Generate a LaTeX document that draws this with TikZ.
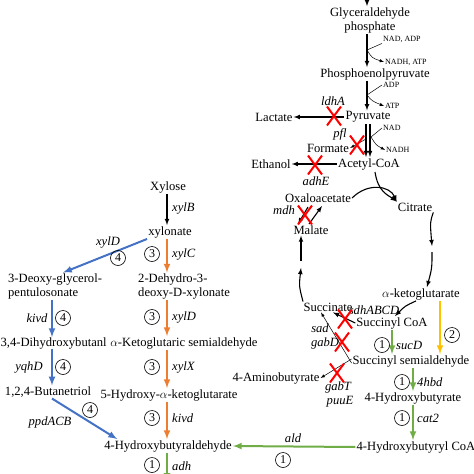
\documentclass[tikz,border=0pt]{standalone}
\usepackage{fontspec}
\setmainfont{Liberation Serif}
\usepackage{tikz}
\usepackage{xcolor}
\usetikzlibrary{arrows, shapes.misc}

\definecolor{pathorange}{RGB}{237,125,49}
\definecolor{pathblue}{RGB}{68,114,196}
\definecolor{pathgreen}{RGB}{112,173,71}
\definecolor{pathyellow}{RGB}{255,192,0}

\tikzset{
  met/.style={inner sep=1pt, font=\fontsize{12.6}{14}\selectfont},
  gene/.style={inner sep=1pt, font=\fontsize{12.6}{14}\selectfont\itshape},
  cof/.style={inner sep=1pt, font=\fontsize{8}{9}\selectfont},
  num/.style={circle, draw, line width=0.6pt, inner sep=0pt, minimum size=15pt, font=\fontsize{12}{12}\selectfont},
  knock/.style={cross out, draw=red, line width=2pt, minimum width=12pt, minimum height=17pt, inner sep=0pt},
  flux/.style={-latex, line width=1.1pt},
  thinflux/.style={-latex, line width=0.5pt},
  route/.style={-latex, line width=2pt}
}

\begin{document}
\begin{tikzpicture}[x=1pt, y=-1pt]
\useasboundingbox (0,0) rectangle (474,474);

% glycolysis
\coordinate (top) at (367,-2);
\node[met, align=center] (gap) at (370,20) {Glyceraldehyde\\phosphate};
\node[met] (pep) at (375,74) {Phosphoenolpyruvate};
\node[met] (pyr) at (368,117) {Pyruvate};
\node[met] (lac) at (274,117) {Lactate};
\node[met] (formate) at (328,148) {Formate};
\node[met] (acoa) at (369,164) {Acetyl-CoA};
\node[met] (etoh) at (271,164) {Ethanol};

\draw[flux] (top) -- (top |- gap.north);
\draw[flux] (gap.south -| top) -- (pep.north -| top);
\draw[flux] (pep.south -| top) -- (pyr.north -| top);

\node[cof, anchor=west] (nadadp) at (382,39) {NAD, ADP};
\node[cof, anchor=west] (nadhatp) at (384,62) {NADH, ATP};
\coordinate (b1) at (367,50);
\draw[line width=0.5pt] (b1) -- (nadadp.south west);
\draw[thinflux] (b1) .. controls (372,58) .. (nadhatp.west);

\node[cof, anchor=west] (adp) at (382,85) {ADP};
\node[cof, anchor=west] (atp) at (384,106) {ATP};
\coordinate (b2) at (367,95);
\draw[line width=0.5pt] (b2) -- (adp.west);
\draw[thinflux] (b2) .. controls (372,101) .. (atp.west);

% pyruvate node
\draw[flux] (pyr.west) -- (lac.east);
\node[knock] (x1) at (334,116) {};
\node[gene] (ldhA) at (333,101) {ldhA};

\draw[flux] (366,124) -- (366,157);
\draw[flux] (370,124) -- (370,157);
\node[cof, anchor=west] (nad) at (382,128) {NAD};
\node[cof, anchor=west] (nadh) at (385,150) {NADH};
\coordinate (b3) at (371,137);
\draw[line width=0.5pt] (b3) -- (nad.west);
\draw[thinflux] (b3) .. controls (376,145) .. (nadh.west);

\coordinate (b4) at (366,139);
\draw[thinflux] (b4) -- (formate.east);
\node[knock] (x2) at (357,145) {};
\node[gene] (pfl) at (340,134) {pfl};

\draw[flux] (acoa.west) -- (etoh.east);
\node[knock] (x3) at (315,165) {};
\node[gene] (adhE) at (316,181) {adhE};

% TCA cycle
\node[met] (oaa) at (318,198) {Oxaloacetate};
\node[met] (mal) at (311,230) {Malate};
\node[met] (cit) at (415,207) {Citrate};
\node[met] (akg) at (421,294) {$\alpha$-ketoglutarate};
\node[met] (succ) at (328,307) {Succinate};
\node[met] (scoa) at (392,323) {Succinyl CoA};
\node[gene] (sdh) at (374,310) {sdhABCD};

\draw[flux] (375,172) .. controls (378,192) and (388,195) .. (cit.north west);
\draw[flux] (oaa.east) .. controls (368,182) and (390,186) .. (cit.north west);
\coordinate (c1) at (432,246);
\coordinate (c2) at (432,252);
\draw[flux] (cit.south east) .. controls (430,222) .. (c1);
\draw[flux] (c2) .. controls (432,268) .. ([xshift=6pt]akg.north);
\draw[flux] ([xshift=-5pt]akg.south) .. controls (405,306) .. ([xshift=3pt]scoa.north);
\draw[flux] (scoa.west) -- ([xshift=5pt]succ.south);
\node[knock] (x4) at (345,319) {};
\coordinate (c3) at (301,268);
\coordinate (c4) at (301,261);
\draw[flux] ([xshift=-25pt]succ.north) .. controls (299,286) .. (c3);
\draw[flux] (c4) -- (mal.south -| c4);

\draw[flux] (308,207) -- (298,224);
\draw[flux] (309,224) -- (322,206);
\node[knock] (x5) at (305,215) {};
\node[gene] (mdh) at (284,210) {mdh};

% side branches of succinyl semialdehyde
\node[met] (ssa) at (411,361) {Succinyl semialdehyde};
\node[met] (gaba) at (276,378) {4-Aminobutyrate};
\draw[thinflux] ([yshift=-2pt]ssa.west) -- ([xshift=-7pt]succ.south);
\node[knock] (x6) at (342,342) {};
\node[gene] (sad) at (320,328) {sad};
\node[gene] (gabD) at (325,343) {gabD};
\draw[thinflux] ([yshift=2pt]ssa.west) -- (gaba.east);
\node[knock] (x7) at (337,373) {};
\node[gene] (gabT) at (338,387) {gabT};
\node[gene] (puuE) at (340,402) {puuE};

% route 1 and 2
\node[met] (hb) at (413,398) {4-Hydroxybutyrate};
\node[met] (hbcoa) at (416,447) {4-Hydroxybutyryl CoA};
\node[met] (hbald) at (168,446) {4-Hydroxybutyraldehyde};

\draw[route, pathgreen] (scoa.south) -- (scoa.south |- ssa.north);
\node[num] (n1a) at (382,345) {1};
\node[gene, anchor=west] (sucD) at (395,345) {sucD};
\draw[route, pathyellow] ([xshift=19pt]akg.south) -- ([xshift=19pt]akg.south |- ssa.north);
\node[num] (n2) at (452,335) {2};
\draw[route, pathgreen] (ssa.south -| hb) -- (hb.north);
\node[num] (n1b) at (402,382) {1};
\node[gene, anchor=west] (hbd) at (416,382) {4hbd};
\draw[route, pathgreen] (hb.south) -- (hb.south |- hbcoa.north);
\node[num] (n1c) at (402,418) {1};
\node[gene, anchor=west] (cat2) at (416,418) {cat2};
\draw[route, pathgreen] (hbcoa.west) -- (hbald.east);
\node[gene] (ald) at (293,438) {ald};
\node[num] (n1d) at (283,460) {1};
\coordinate (bottom) at (167,482);
\draw[route, pathgreen] (hbald.south -| bottom) -- (bottom);
\node[num] (n1e) at (152,465) {1};
\node[gene, anchor=west] (adh) at (171,466) {adh};

% route 3
\coordinate (spine) at (167,0);
\node[met] (xylose) at (168,187) {Xylose};
\node[met] (xylonate) at (170,232) {xylonate};
\node[met, align=left, anchor=west] (ddx) at (137,286.5) {2-Dehydro-3-\\deoxy-D-xylonate};
\node[met] (aks) at (184,343) {$\alpha$-Ketoglutaric semialdehyde};
\node[met] (hakg) at (169,395) {5-Hydroxy-$\alpha$-ketoglutarate};

\draw[flux] (xylose.south -| spine) -- (xylonate.north -| spine);
\node[gene, anchor=west] (xylB) at (171,208) {xylB};
\draw[route, pathorange] (xylonate.south -| spine) -- (ddx.north -| spine);
\node[num] (n3a) at (152,254) {3};
\node[gene, anchor=west] (xylC) at (171,254) {xylC};
\draw[route, pathorange] (ddx.south -| spine) -- (aks.north -| spine);
\node[num] (n3b) at (152,317) {3};
\node[gene, anchor=west] (xylDo) at (171,317) {xylD};
\draw[route, pathorange] (aks.south -| spine) -- (hakg.north -| spine);
\node[num] (n3c) at (152,367) {3};
\node[gene, anchor=west] (xylX) at (171,367) {xylX};
\draw[route, pathorange] (hakg.south -| spine) -- (hbald.north -| spine);
\node[num] (n3d) at (152,418) {3};
\node[gene, anchor=west] (kivdo) at (171,418) {kivd};

% route 4
\coordinate (lane) at (52,0);
\node[met, align=left, anchor=west] (dgp) at (7,286.5) {3-Deoxy-glycerol-\\pentulosonate};
\node[met, anchor=west, inner sep=0pt] (dhb) at (0.5,343) {3,4-Dihydroxybutanl};
\node[met] (btt) at (48,392) {1,2,4-Butanetriol};

\draw[route, pathblue] (xylonate.south west) -- ([xshift=56pt]dgp.north west);
\node[gene] (xylDb) at (108,242) {xylD};
\node[num] (n4a) at (118,258) {4};
\draw[route, pathblue] (dgp.south -| lane) -- (dhb.north -| lane);
\node[gene] (kivdb) at (37,318) {kivd};
\node[num] (n4b) at (63,318) {4};
\draw[route, pathblue] (dhb.south -| lane) -- (btt.north -| lane);
\node[gene] (yqhD) at (29,367) {yqhD};
\node[num] (n4c) at (63,367) {4};
\draw[route, pathblue] (btt.south -| lane) -- ([xshift=14pt]hbald.north west);
\node[gene] (ppd) at (50,422) {ppdACB};
\node[num] (n4d) at (90,410) {4};
\end{tikzpicture}
\end{document}
